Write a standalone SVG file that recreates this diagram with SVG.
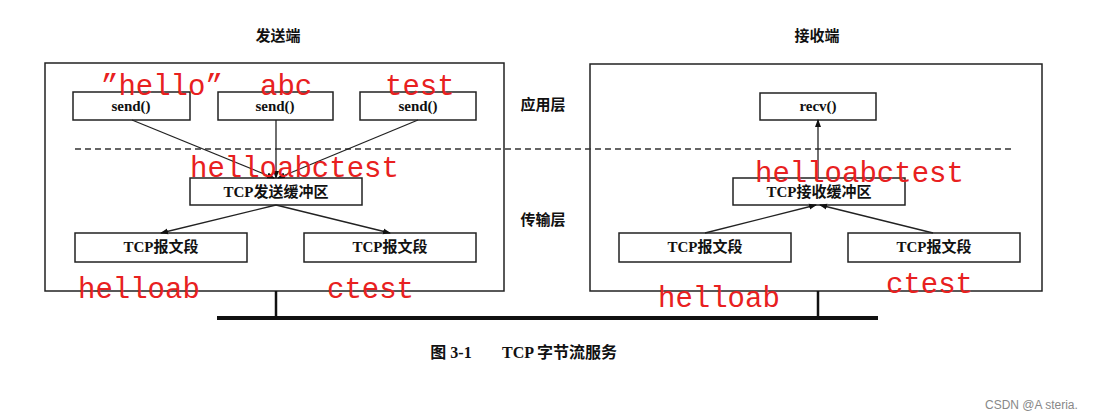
<svg xmlns="http://www.w3.org/2000/svg" width="1109" height="419" viewBox="0 0 1109 419">
<style>
.b{fill:#fff;stroke:#222;stroke-width:1.5}
.t{font-family:"Liberation Serif","Noto Sans CJK SC",serif;font-weight:bold;font-size:15px;fill:#111;text-anchor:middle}
.r{font-family:"Liberation Mono",monospace;font-size:29px;fill:#e82020}
.c{stroke:#222;stroke-width:1.3;fill:none}
</style>
<defs><marker id="a" markerWidth="8" markerHeight="8" refX="7" refY="4" orient="auto" markerUnits="userSpaceOnUse"><path d="M0,1L8,4L0,7z" fill="#111"/></marker></defs>
<rect width="1109" height="419" fill="#fff"/>
<text class="t" x="278" y="41">发送端</text>
<text class="t" x="817" y="41">接收端</text>
<text class="t" x="543" y="110">应用层</text>
<text class="t" x="543" y="225">传输层</text>
<rect class="b" x="45" y="63" width="459" height="228"/>
<rect class="b" x="590" y="64" width="452" height="227"/>
<line x1="75" y1="149" x2="1015" y2="149" stroke="#333" stroke-width="1.3" stroke-dasharray="6,4"/>
<g id="send1"><rect class="b" x="73" y="92" width="117" height="28"/><text class="t" x="131" y="111">send()</text></g>
<g id="send2"><rect class="b" x="218" y="92" width="115" height="28"/><text class="t" x="275" y="111">send()</text></g>
<g id="send3"><rect class="b" x="360" y="92" width="116" height="28"/><text class="t" x="418" y="111">send()</text></g>
<g id="sbuf"><rect class="b" x="190" y="178" width="172" height="27"/><text class="t" x="276" y="197">TCP发送缓冲区</text></g>
<g id="sseg1"><rect class="b" x="75" y="233" width="172" height="29"/><text class="t" x="161" y="252">TCP报文段</text></g>
<g id="sseg2"><rect class="b" x="304" y="233" width="172" height="29"/><text class="t" x="390" y="252">TCP报文段</text></g>
<g id="recv"><rect class="b" x="760" y="93" width="116" height="27"/><text class="t" x="818" y="111">recv()</text></g>
<g id="rbuf"><rect class="b" x="733" y="178" width="172" height="27"/><text class="t" x="819" y="197">TCP接收缓冲区</text></g>
<g id="rseg1"><rect class="b" x="619" y="233" width="172" height="29"/><text class="t" x="705" y="252">TCP报文段</text></g>
<g id="rseg2"><rect class="b" x="848" y="233" width="172" height="29"/><text class="t" x="934" y="252">TCP报文段</text></g>
<g id="connectors">
<line class="c" x1="132" y1="120" x2="274" y2="178" marker-end="url(#a)"/>
<line class="c" x1="276" y1="120" x2="276" y2="178" marker-end="url(#a)"/>
<line class="c" x1="418" y1="120" x2="278" y2="178" marker-end="url(#a)"/>
<line class="c" x1="276" y1="205" x2="161" y2="233" marker-end="url(#a)"/>
<line class="c" x1="276" y1="205" x2="390" y2="233" marker-end="url(#a)"/>
<line class="c" x1="818" y1="178" x2="818" y2="120" marker-end="url(#a)"/>
<line class="c" x1="705" y1="233" x2="816" y2="205" marker-end="url(#a)"/>
<line class="c" x1="933" y1="233" x2="820" y2="205" marker-end="url(#a)"/>
<line x1="217" y1="318" x2="878" y2="318" stroke="#111" stroke-width="4"/>
<line x1="276" y1="291" x2="276" y2="318" stroke="#111" stroke-width="2.5"/>
<line x1="818" y1="291" x2="818" y2="318" stroke="#111" stroke-width="2.5"/>
</g>
<text class="r" x="101" y="95">”hello”</text>
<text class="r" x="260" y="95">abc</text>
<text class="r" x="385" y="95">test</text>
<text class="r" x="190" y="177">helloabctest</text>
<text class="r" x="78" y="298">helloab</text>
<text class="r" x="327" y="298">ctest</text>
<text class="r" x="755" y="182">helloabctest</text>
<text class="r" x="658" y="307">helloab</text>
<text class="r" x="886" y="293">ctest</text>
<text class="t" x="451" y="358" style="font-size:16px">图 3-1</text>
<text class="t" x="502" y="358" style="font-size:16px;text-anchor:start">TCP 字节流服务</text>
<text x="985" y="409" style="font-family:'Liberation Sans','Noto Sans CJK SC',sans-serif;font-size:12px;fill:#888">CSDN @A steria.</text>
</svg>
